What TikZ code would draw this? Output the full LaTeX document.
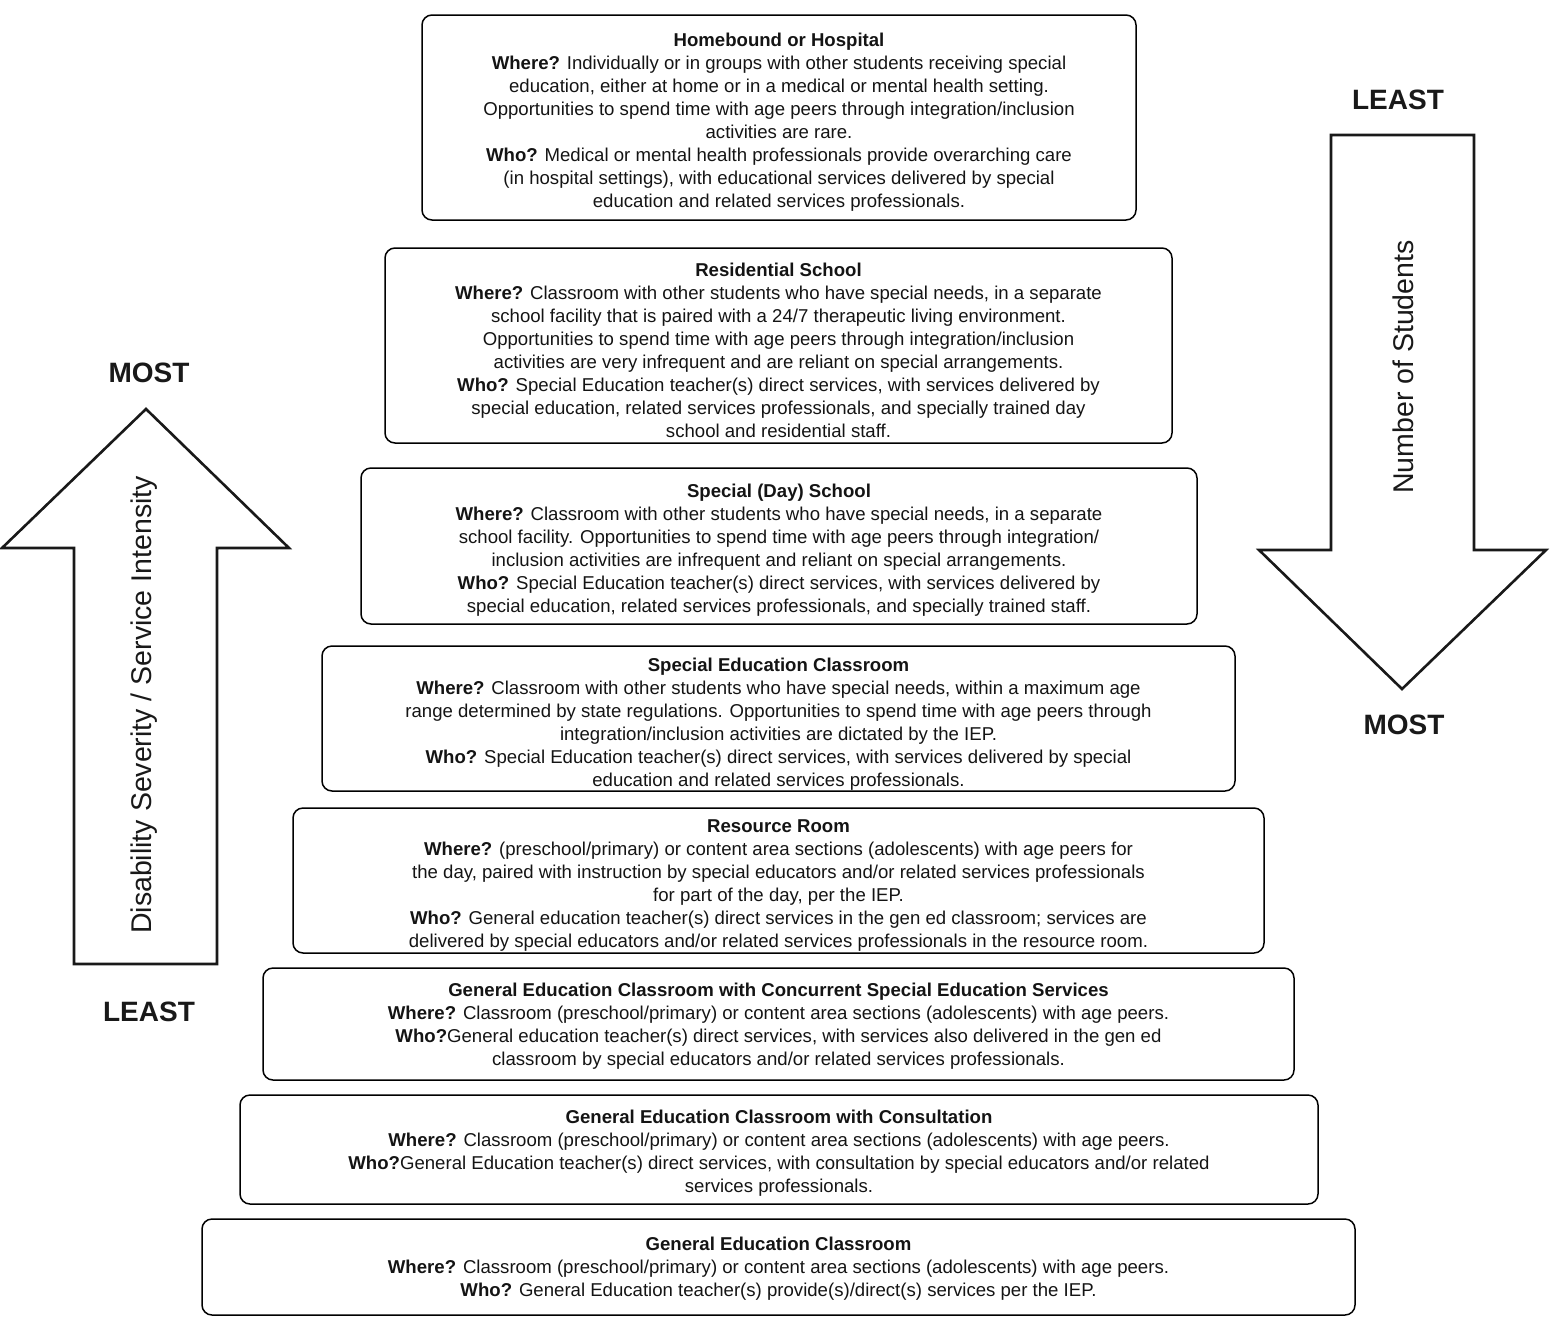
\documentclass[tikz,border=0pt]{standalone}
\usepackage{fontspec}
\setmainfont{Liberation Sans}
\begin{document}
\begin{tikzpicture}[x=1pt,y=-1pt,
  levelbox/.style={draw=black, line width=1.5pt, rounded corners=10pt, inner sep=0pt},
  leveltext/.style={align=center, inner sep=0pt, font=\fontsize{18.6}{23}\selectfont, text=black!92},
  bigarrow/.style={draw=black!90, line width=2.6pt, line join=miter, fill=white},
  endlabel/.style={font=\fontsize{28}{32}\selectfont\bfseries, text=black!90, inner sep=0pt},
  axislabel/.style={font=\fontsize{28.5}{32}\selectfont, text=black!90, inner sep=0pt, rotate=90}]
\useasboundingbox (0,0) rectangle (1554,1317);

% left arrow (up)
\draw[bigarrow] (74,964) -- (74,548) -- (2,548) -- (146,409) -- (289,548) -- (217,548) -- (217,964) -- cycle;
\node[axislabel] (lax) at (144,705) {Disability Severity / Service Intensity};
\node[endlabel] (lmost) at (149,373) {MOST};
\node[endlabel] (lleast) at (149,1012) {LEAST};

% right arrow (down)
\draw[bigarrow] (1331,135) -- (1474,135) -- (1474,550) -- (1546,550) -- (1402,689) -- (1259,550) -- (1331,550) -- cycle;
\node[axislabel] (rax) at (1403,367) {Number of Students};
\node[endlabel] (rleast) at (1398,100) {LEAST};
\node[endlabel] (rmost) at (1404,725) {MOST};

% levels
\node[levelbox, minimum width=714pt, minimum height=205pt] (b1) at (779,117.5) {};
\node[leveltext] (t1) at (779,122) {%
\textbf{Homebound or Hospital}\\
\textbf{Where?} Individually or in groups with other students receiving special\\
education, either at home or in a medical or mental health setting.\\
Opportunities to spend time with age peers through integration/inclusion\\
activities are rare.\\
\textbf{Who?} Medical or mental health professionals provide overarching care\\
(in hospital settings), with educational services delivered by special\\
education and related services professionals.};

\node[levelbox, minimum width=787pt, minimum height=195pt] (b2) at (778.5,345.5) {};
\node[leveltext] (t2) at (778.5,350.5) {%
\textbf{Residential School}\\
\textbf{Where?} Classroom with other students who have special needs, in a separate\\
school facility that is paired with a 24/7 therapeutic living environment.\\
Opportunities to spend time with age peers through integration/inclusion\\
activities are very infrequent and are reliant on special arrangements.\\
\textbf{Who?} Special Education teacher(s) direct services, with services delivered by\\
special education, related services professionals, and specially trained day\\
school and residential staff.};

\node[levelbox, minimum width=836pt, minimum height=156pt] (b3) at (779,546) {};
\node[leveltext] (t3) at (779,550) {%
\textbf{Special (Day) School}\\
\textbf{Where?} Classroom with other students who have special needs, in a separate\\
school facility. Opportunities to spend time with age peers through integration/\\
inclusion activities are infrequent and reliant on special arrangements.\\
\textbf{Who?} Special Education teacher(s) direct services, with services delivered by\\
special education, related services professionals, and specially trained staff.};

\node[levelbox, minimum width=913pt, minimum height=145pt] (b4) at (778.5,718.5) {};
\node[leveltext] (t4) at (778.5,724) {%
\textbf{Special Education Classroom}\\
\textbf{Where?} Classroom with other students who have special needs, within a maximum age\\
range determined by state regulations. Opportunities to spend time with age peers through\\
integration/inclusion activities are dictated by the IEP.\\
\textbf{Who?} Special Education teacher(s) direct services, with services delivered by special\\
education and related services professionals.};

\node[levelbox, minimum width=971pt, minimum height=145pt] (b5) at (778.5,880.5) {};
\node[leveltext] (t5) at (778.5,886) {%
\textbf{Resource Room}\\
\textbf{Where?} (preschool/primary) or content area sections (adolescents) with age peers for\\
the day, paired with instruction by special educators and/or related services professionals\\
for part of the day, per the IEP.\\
\textbf{Who?} General education teacher(s) direct services in the gen ed classroom; services are\\
delivered by special educators and/or related services professionals in the resource room.};

\node[levelbox, minimum width=1031pt, minimum height=112pt] (b6) at (778.5,1024) {};
\node[leveltext] (t6) at (778.5,1026.5) {%
\textbf{General Education Classroom with Concurrent Special Education Services}\\
\textbf{Where?} Classroom (preschool/primary) or content area sections (adolescents) with age peers.\\
\textbf{Who?}General education teacher(s) direct services, with services also delivered in the gen ed\\
classroom by special educators and/or related services professionals.};

\node[levelbox, minimum width=1078pt, minimum height=109pt] (b7) at (779,1149.5) {};
\node[leveltext] (t7) at (779,1153.5) {%
\textbf{General Education Classroom with Consultation}\\
\textbf{Where?} Classroom (preschool/primary) or content area sections (adolescents) with age peers.\\
\textbf{Who?}General Education teacher(s) direct services, with consultation by special educators and/or related\\
services professionals.};

\node[levelbox, minimum width=1153pt, minimum height=96pt] (b8) at (778.5,1267) {};
\node[leveltext] (t8) at (778.5,1268.5) {%
\textbf{General Education Classroom}\\
\textbf{Where?} Classroom (preschool/primary) or content area sections (adolescents) with age peers.\\
\textbf{Who?} General Education teacher(s) provide(s)/direct(s) services per the IEP.};
\end{tikzpicture}
\end{document}
